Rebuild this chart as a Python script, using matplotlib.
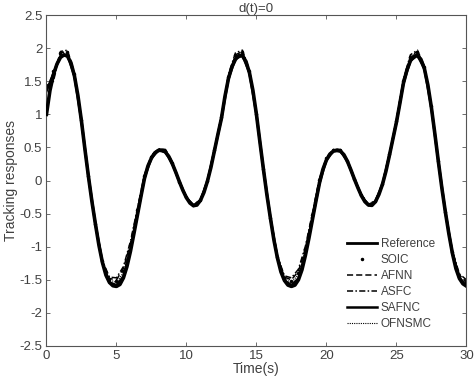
import numpy as np
import matplotlib
matplotlib.use("Agg")
import matplotlib.pyplot as plt

plt.rcParams['font.family'] = ['Liberation Sans', 'DejaVu Sans']

# time grids
t_ref = np.arange(0, 30.001, 0.25)
t_m = np.arange(0, 30.001, 0.5)

reference = [1.00, 1.36, 1.60, 1.76, 1.86, 1.90, 1.88, 1.78, 1.58, 1.28, 0.90, 0.47, 0.06,
             -0.32, -0.66, -0.98, -1.24, -1.43, -1.54, -1.59, -1.60, -1.57, -1.47, -1.30,
             -1.07, -0.80, -0.52, -0.24, 0.03, 0.22, 0.34, 0.42, 0.455, 0.46, 0.43, 0.36,
             0.25, 0.12, -0.02, -0.15, -0.26, -0.34, -0.38, -0.37, -0.30, -0.18, -0.01,
             0.20, 0.45, 0.70, 0.94, 1.27, 1.54, 1.72, 1.83, 1.89, 1.885, 1.80, 1.63, 1.36,
             1.00, 0.58, 0.17, -0.22, -0.57, -0.90, -1.17, -1.38, -1.51, -1.58, -1.60,
             -1.58, -1.50, -1.35, -1.13, -0.87, -0.59, -0.31, -0.04, 0.17, 0.31, 0.40,
             0.445, 0.46, 0.445, 0.39, 0.29, 0.16, 0.02, -0.11, -0.23, -0.32, -0.37,
             -0.375, -0.32, -0.21, -0.06, 0.14, 0.38, 0.63, 0.88, 1.17, 1.47, 1.67, 1.81,
             1.88, 1.89, 1.83, 1.69, 1.44, 1.10, 0.70, 0.28, -0.12, -0.48, -0.81, -1.10,
             -1.33, -1.48, -1.56, -1.595]

soic = [1.45, 1.66, 1.92, 1.94, 1.61, 0.91, 0.07, -0.65, -1.22, -1.49, -1.52, -1.36, -0.97,
        -0.45, 0.07, 0.36, 0.46, 0.45, 0.27, -0.02, -0.25, -0.37, -0.29, 0.00, 0.46, 0.96,
        1.57, 1.89, 1.94, 1.65, 1.01, 0.18, -0.56, -1.15, -1.47, -1.52, -1.39, -1.04, -0.52,
        0.01, 0.34, 0.46, 0.46, 0.30, 0.03, -0.22, -0.36, -0.31, -0.05, 0.40, 0.90, 1.50,
        1.87, 1.94, 1.72, 1.12, 0.29, -0.47, -1.08, -1.44, -1.54]

afnn = [1.38, 1.62, 1.93, 1.95, 1.62, 0.92, 0.06, -0.66, -1.22, -1.48, -1.50, -1.33, -0.95,
        -0.44, 0.08, 0.37, 0.47, 0.46, 0.27, -0.02, -0.25, -0.37, -0.29, 0.00, 0.47, 0.97,
        1.58, 1.90, 1.95, 1.66, 1.02, 0.18, -0.56, -1.15, -1.46, -1.50, -1.37, -1.02, -0.51,
        0.02, 0.34, 0.46, 0.46, 0.30, 0.03, -0.22, -0.36, -0.31, -0.05, 0.40, 0.91, 1.51,
        1.88, 1.95, 1.72, 1.12, 0.29, -0.47, -1.08, -1.43, -1.53]

asfc = [1.40, 1.50, 1.95, 1.97, 1.63, 0.93, 0.07, -0.65, -1.21, -1.46, -1.47, -1.30, -0.92,
        -0.42, 0.09, 0.38, 0.48, 0.47, 0.28, -0.01, -0.25, -0.37, -0.29, 0.01, 0.48, 0.98,
        1.60, 1.93, 1.97, 1.67, 1.03, 0.19, -0.55, -1.14, -1.44, -1.47, -1.34, -0.99, -0.49,
        0.03, 0.35, 0.47, 0.47, 0.31, 0.04, -0.21, -0.36, -0.30, -0.04, 0.41, 0.92, 1.53,
        1.90, 1.97, 1.73, 1.13, 0.30, -0.46, -1.07, -1.41, -1.50]

safnc = [1.35, 1.62, 1.88, 1.89, 1.58, 0.90, 0.06, -0.66, -1.24, -1.54, -1.58, -1.45, -1.05,
         -0.51, 0.04, 0.34, 0.455, 0.43, 0.25, -0.02, -0.26, -0.38, -0.30, -0.01, 0.45, 0.94,
         1.54, 1.84, 1.89, 1.63, 1.00, 0.17, -0.57, -1.17, -1.51, -1.58, -1.48, -1.11, -0.58,
         -0.04, 0.31, 0.445, 0.445, 0.29, 0.02, -0.23, -0.37, -0.32, -0.06, 0.38, 0.88, 1.47,
         1.81, 1.89, 1.69, 1.10, 0.28, -0.48, -1.10, -1.48, -1.59]

ofnsmc = [1.35, 1.58, 1.90, 1.92, 1.60, 0.91, 0.06, -0.66, -1.23, -1.50, -1.54, -1.39, -1.00,
          -0.47, 0.06, 0.35, 0.46, 0.45, 0.27, -0.02, -0.26, -0.38, -0.30, -0.01, 0.46, 0.95,
          1.56, 1.87, 1.92, 1.65, 1.01, 0.17, -0.57, -1.16, -1.48, -1.54, -1.42, -1.06, -0.54,
          -0.01, 0.33, 0.45, 0.45, 0.29, 0.02, -0.23, -0.37, -0.32, -0.06, 0.39, 0.90, 1.49,
          1.85, 1.92, 1.71, 1.11, 0.28, -0.48, -1.09, -1.45, -1.56]

x_ticks = [0, 5, 10, 15, 20, 25, 30]
y_ticks = [-2.5, -2, -1.5, -1, -0.5, 0, 0.5, 1, 1.5, 2, 2.5]
y_ticklabels = ['-2.5', '-2', '-1.5', '-1', '-0.5', '0', '0.5', '1', '1.5', '2', '2.5']

txt = '#404040'
fig = plt.figure(figsize=(4.74, 3.87), dpi=100)
ax = fig.add_axes([0.098, 0.106, 0.886, 0.855])

ax.plot(t_ref, reference, color='black', lw=2.6, label='Reference', zorder=3)
ax.plot(t_m, soic, color='black', ls='none', marker='.', ms=3, label='SOIC', zorder=2)
ax.plot(t_m, afnn, color='black', ls=(0, (4, 2)), lw=1.1, label='AFNN', zorder=2)
ax.plot(t_m, asfc, color='black', ls=(0, (4, 1.5, 1, 1.5)), lw=1.1, label='ASFC', zorder=2)
ax.plot(t_m, safnc, color='black', lw=1.8, label='SAFNC', zorder=2)
ax.plot(t_m, ofnsmc, color='black', ls=(0, (1, 1)), lw=0.8, label='OFNSMC', zorder=2)

ax.set_xlim(0, 30)
ax.set_ylim(-2.5, 2.5)
ax.set_xticks(x_ticks)
ax.set_xticklabels([str(v) for v in x_ticks])
ax.set_yticks(y_ticks)
ax.set_yticklabels(y_ticklabels)
ax.tick_params(direction='in', top=True, right=True, length=3, width=0.6,
               labelsize=9.5, colors='#555555', labelcolor=txt, pad=3)
for s in ax.spines.values():
    s.set_color('#555555')
    s.set_linewidth(0.8)

ax.set_title('d(t)=0', fontsize=9.5, color=txt, pad=2)
ax.set_xlabel('Time(s)', fontsize=10, color=txt, labelpad=0)
ax.set_ylabel('Tracking responses', fontsize=10, color=txt, labelpad=1)

leg = ax.legend(loc='upper left', bbox_to_anchor=(0.695, 0.35), frameon=False,
                fontsize=8.5, handlelength=2.6, handletextpad=0.3, labelspacing=0.33,
                borderpad=0.2, numpoints=1)
leg.get_lines()[0].set_linewidth(2.0)
for text in leg.get_texts():
    text.set_color(txt)

fig.savefig('out.png', dpi=100)
